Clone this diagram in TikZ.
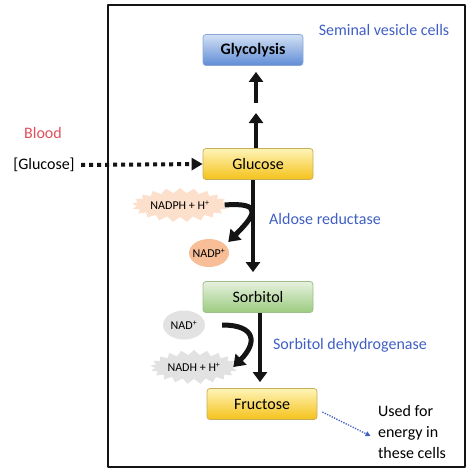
\documentclass[tikz,border=0pt]{standalone}
\usepackage{fontspec}
\setmainfont{Carlito}
\usetikzlibrary{arrows.meta,shapes.symbols,shapes.geometric}
\definecolor{CellInk}{gray}{0.08}
\definecolor{CellBlue}{HTML}{3F5FC4}
\definecolor{CellRed}{HTML}{E0505A}
\definecolor{GlyTop}{HTML}{D2E0F4}
\definecolor{GlyBot}{HTML}{5F8CD6}
\definecolor{GlyLine}{HTML}{8AA6D6}
\definecolor{SugTop}{HTML}{FFF4B8}
\definecolor{SugBot}{HTML}{F4C21A}
\definecolor{SugLine}{HTML}{C8AE5A}
\definecolor{SorTop}{HTML}{E6F1DE}
\definecolor{SorBot}{HTML}{9CCB80}
\definecolor{SorLine}{HTML}{9DBF8B}
\definecolor{NadphFill}{HTML}{FCE0CC}
\definecolor{NadpFill}{HTML}{F7BE98}
\definecolor{NadFill}{HTML}{E2E2E2}
\tikzset{
    sv/diagram/.style={
        x=1pt, y=-1pt,
        font=\fontsize{16}{19}\selectfont,
        line cap=butt,
        line join=round
    },
    sv/frame/.style={draw=CellInk, line width=1.3pt},
    sv/box/.style={
        rectangle, rounded corners=3pt, line width=0.8pt,
        minimum width=110pt, minimum height=31pt
    },
    sv/glycolysis/.style={sv/box, draw=GlyLine, top color=GlyTop, bottom color=GlyBot,
        minimum width=100pt, font=\fontsize{16}{19}\selectfont\bfseries},
    sv/sugar/.style={sv/box, draw=SugLine, top color=SugTop, bottom color=SugBot},
    sv/sorbitol/.style={sv/box, draw=SorLine, top color=SorTop, bottom color=SorBot},
    sv/enzyme/.style={text=CellBlue},
    sv/cofactor/.style={font=\fontsize{12}{13}\selectfont, inner sep=1pt},
    sv/burst/.style={sv/cofactor, starburst, starburst points=21,
        starburst point height=5pt, random starburst=0, draw=none,
        minimum width=74pt, minimum height=34pt},
    sv/flow/.style={draw=CellInk, line width=4.5pt,
        -{Triangle[length=10pt, width=14pt]}},
    sv/turn/.style={draw=CellInk, line width=5pt,
        -{Triangle[length=11pt, width=15pt]}},
    sv/uptake/.style={draw=CellInk, line width=4pt, dash pattern=on 4pt off 4pt,
        -{Triangle[length=11pt, width=12pt]}},
    sv/use/.style={draw=CellBlue, line width=1.3pt, dash pattern=on 1.3pt off 1.3pt,
        -{Triangle[length=5pt, width=5pt]}}
}
\begin{document}
\begin{tikzpicture}[sv/diagram]
    \useasboundingbox (0,0) rectangle (474,474);
    \draw[sv/frame] (108,5) rectangle (465,467);
    % pathway boxes
    \node[sv/glycolysis] (glycolysis) at (253,50) {Glycolysis};
    \node[sv/sugar] (glucose) at (258,164) {Glucose};
    \node[sv/sorbitol] (sorbitol) at (258,297) {Sorbitol};
    \node[sv/sugar] (fructose) at (262,404) {Fructose};
    \coordinate (relay) at (256,108);
    % labels
    \node[text=CellRed] (blood) at (43,133) {Blood};
    \node (serum) at (44,165) {[Glucose]};
    \node[sv/enzyme] (cells) at (384,30) {Seminal vesicle cells};
    \node[sv/enzyme] (aldose) at (325,219) {Aldose reductase};
    \node[sv/enzyme] (sdh) at (350,345) {Sorbitol dehydrogenase};
    \node[align=left, font=\fontsize{16}{21}\selectfont] (used) at (412,432)
        {Used for\\energy in\\these cells};
    % cofactors
    \node[sv/burst, fill=NadphFill] (nadph) at (180,205) {NADPH + H\textsuperscript{+}};
    \node[sv/cofactor, ellipse, fill=NadpFill, inner sep=-3pt,
        minimum width=40pt, minimum height=28pt] (nadp) at (209,253) {NADP\textsuperscript{+}};
    \node[sv/cofactor, ellipse, fill=NadFill, inner sep=-3pt,
        minimum width=42pt, minimum height=29pt] (nad) at (184,325) {NAD\textsuperscript{+}};
    \node[sv/burst, fill=NadFill, minimum width=80pt] (nadh) at (194,367) {NADH + H\textsuperscript{+}};
    % connectors
    \draw[sv/uptake] ([xshift=3pt]serum.east) -- (glucose.west);
    \draw[sv/flow] ([xshift=-2pt]glucose.north) -- ([yshift=-5pt]relay);
    \draw[sv/flow] ([yshift=5pt]relay) -- ([xshift=3pt, yshift=-6pt]glycolysis.south);
    \draw[sv/flow] ([xshift=-5pt]glucose.south) -- ([xshift=-5pt, yshift=9pt]sorbitol.north);
    \draw[sv/flow] ([xshift=2pt]sorbitol.south) -- ([xshift=-2pt, yshift=6pt]fructose.north);
    \draw[sv/turn] ([xshift=-1pt]nadph.east) .. controls +(40,-3) and +(26,-26)
        .. ([xshift=5pt, yshift=1pt]nadp.north east);
    \draw[sv/turn] ([xshift=17pt]nad.east) .. controls +(34,0) and +(24,-24)
        .. ([xshift=-2pt]nadh.east);
    \draw[sv/use] ([xshift=5pt, yshift=-8pt]fructose.east) -- ([xshift=-4pt, yshift=-4pt]used.west);
\end{tikzpicture}
\end{document}
